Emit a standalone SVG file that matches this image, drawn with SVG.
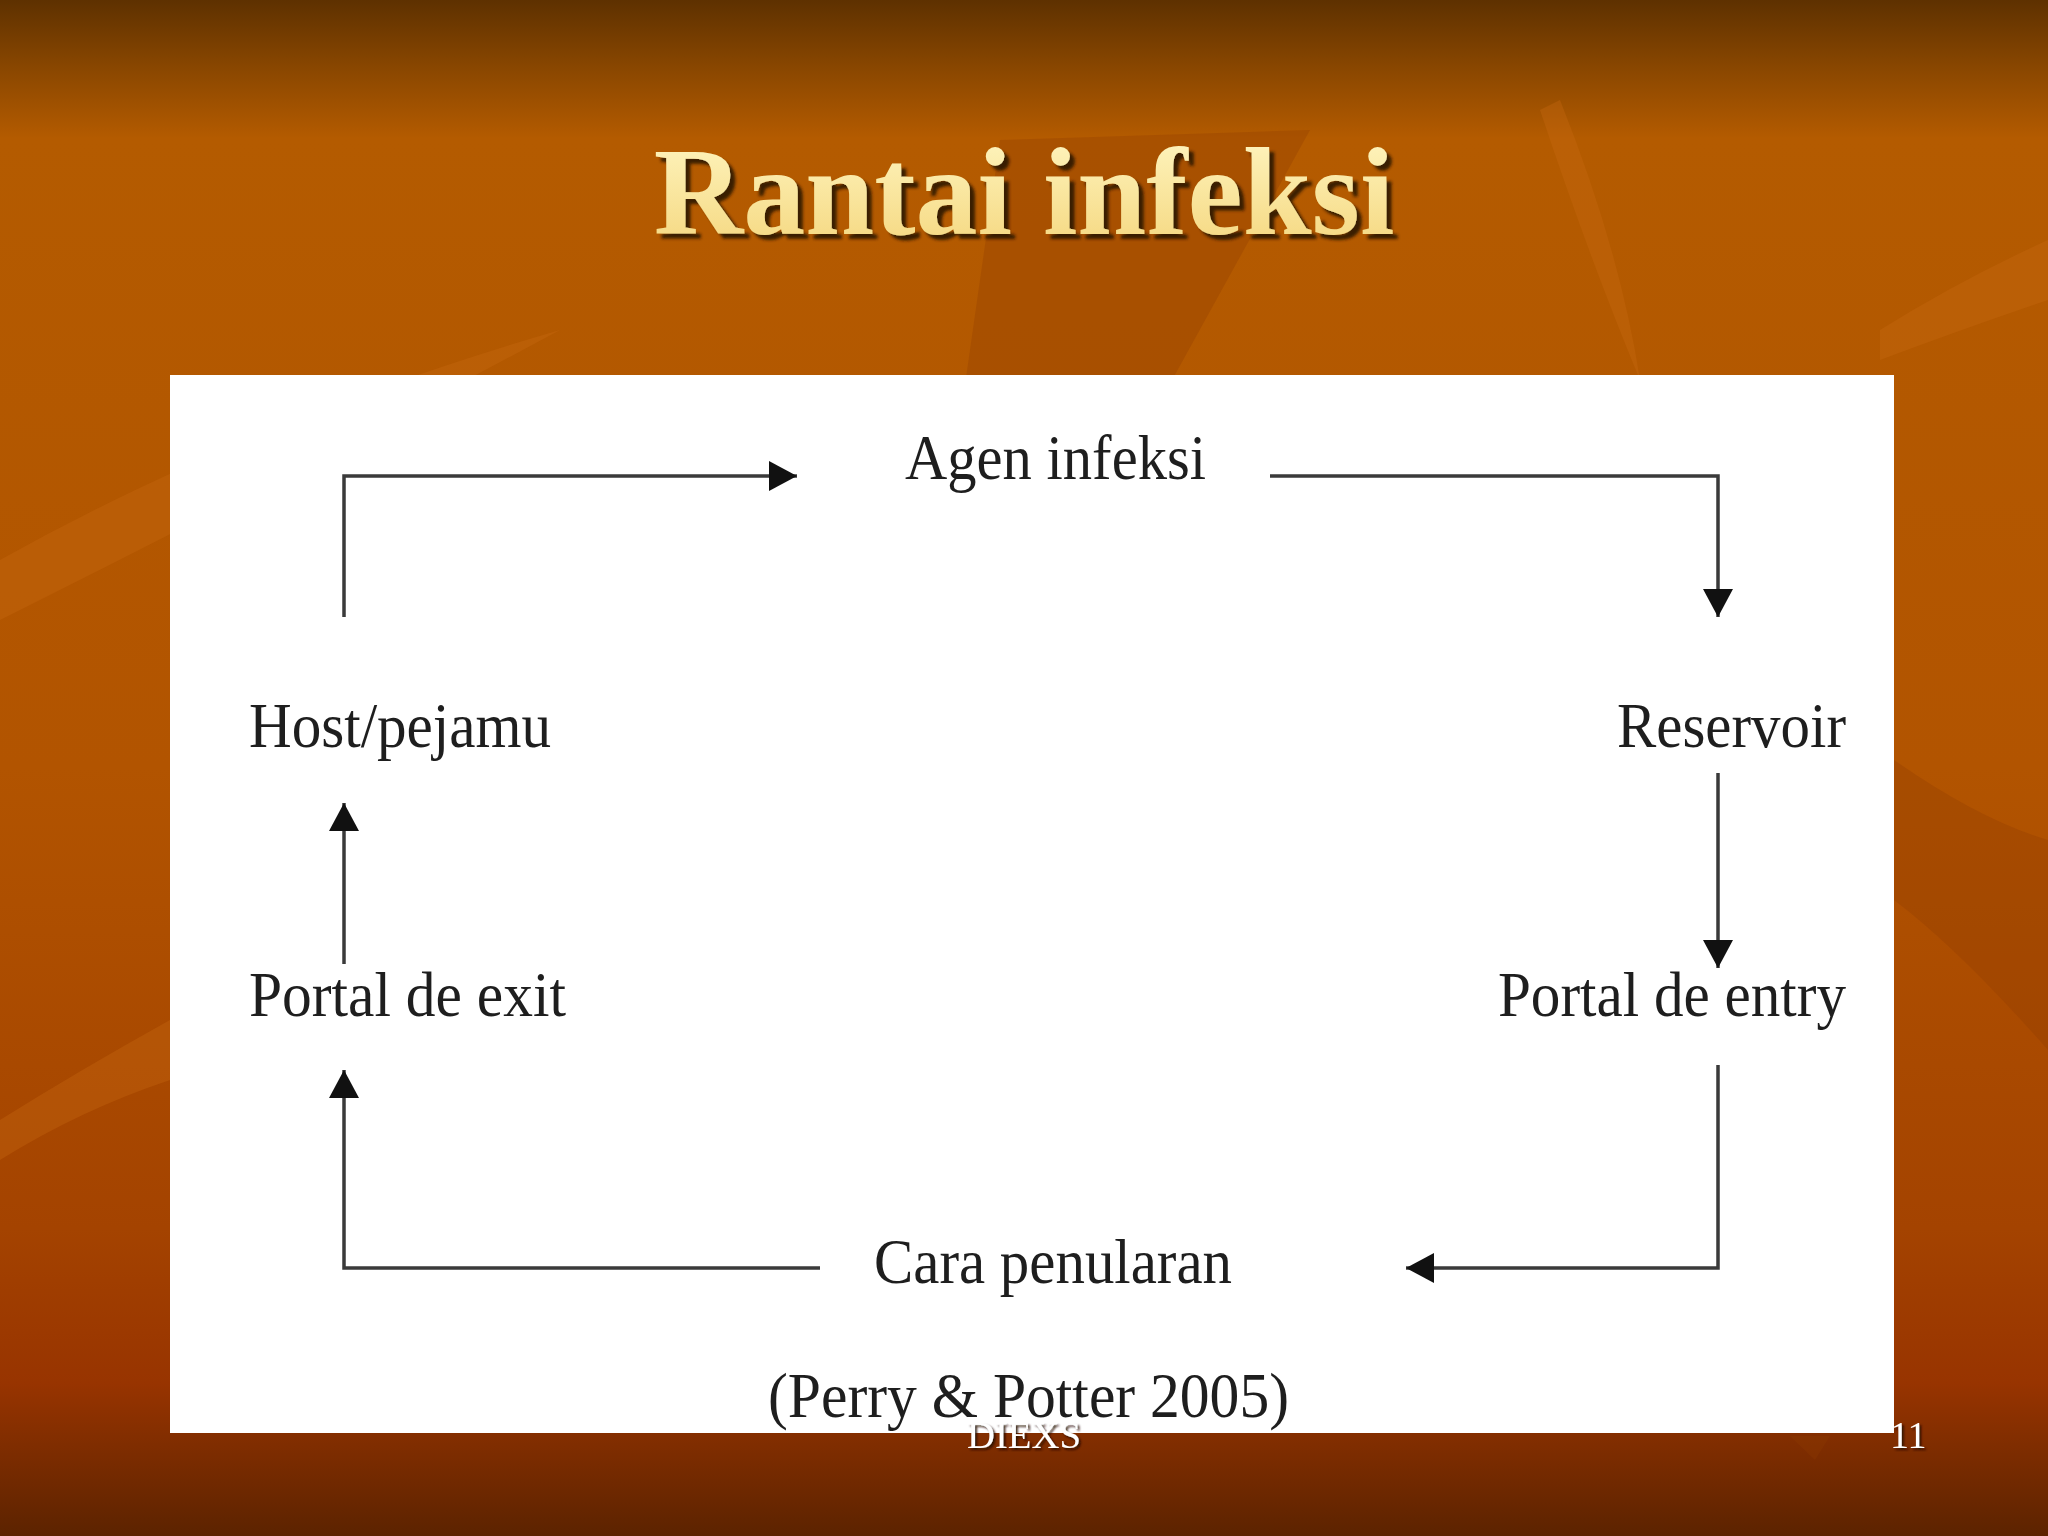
<svg xmlns="http://www.w3.org/2000/svg" width="2048" height="1536" viewBox="0 0 2048 1536">
<defs>
<linearGradient id="bg" x1="0" y1="0" x2="0" y2="1">
<stop offset="0" stop-color="#5E3100"/>
<stop offset="0.045" stop-color="#8A4700"/>
<stop offset="0.09" stop-color="#B45B00"/>
<stop offset="0.5" stop-color="#B25400"/>
<stop offset="0.8" stop-color="#A44300"/>
<stop offset="0.9" stop-color="#983400"/>
<stop offset="1" stop-color="#5C2300"/>
</linearGradient>
<linearGradient id="ttl" x1="0" y1="0" x2="0" y2="1">
<stop offset="0" stop-color="#FFF7C4"/>
<stop offset="1" stop-color="#F4D57A"/>
</linearGradient>
<filter id="sh" x="-10%" y="-20%" width="120%" height="150%">
<feDropShadow dx="5" dy="5" stdDeviation="1.5" flood-color="#2E1400" flood-opacity="0.9"/>
</filter>
<filter id="fsh" x="-10%" y="-30%" width="130%" height="160%">
<feDropShadow dx="2" dy="2" stdDeviation="0.8" flood-color="#2A1000" flood-opacity="0.9"/>
</filter>
<marker id="ah" viewBox="0 0 28 30" refX="28" refY="15" markerWidth="28" markerHeight="30" markerUnits="userSpaceOnUse" orient="auto">
<path d="M0,0 L28,15 L0,30 Z" fill="#111"/>
</marker>
<style>
.lbl{font-family:"Liberation Serif","Times New Roman",serif;font-size:64px;fill:#1E1E1E}
.ln{fill:none;stroke:#3A3A3A;stroke-width:3.5}
.leaf{fill:#C86A10;opacity:0.35}
.leafd{fill:#8E3A00;opacity:0.3}
.foot{font-family:"Liberation Serif","Times New Roman",serif;font-size:38px;fill:#FFFFFF}
</style>
</defs>
<rect x="0" y="0" width="2048" height="1536" fill="url(#bg)"/>
<g id="background-leaves">
<path class="leafd" d="M1000,140 L1310,130 L1150,420 L1080,620 L940,560 Z"/>
<path class="leaf" d="M0,560 Q250,420 560,330 Q300,470 0,620 Z"/>
<path class="leaf" d="M1560,100 Q1620,250 1640,380 Q1590,260 1540,110 Z"/>
<path class="leaf" d="M1880,330 Q1960,280 2048,240 L2048,300 Q1960,330 1880,360 Z"/>
<path class="leafd" d="M1894,760 Q1980,820 2048,840 L2048,1050 Q1960,950 1894,900 Z"/>
<path class="leaf" d="M0,1120 Q80,1070 170,1020 L170,1080 Q80,1110 0,1160 Z"/>
<path class="leafd" d="M1790,1436 L1830,1436 L1815,1460 Z"/>
</g>
<g id="title">
<text x="1024" y="234" text-anchor="middle" font-family="Liberation Serif,'Times New Roman',serif" font-weight="bold" font-size="124" fill="url(#ttl)" filter="url(#sh)">Rantai infeksi</text>
</g>
<rect id="panel" x="170" y="375" width="1724" height="1058" fill="#FFFFFF"/>
<g id="connectors">
<path class="ln" d="M344,617 L344,476 L797,476" marker-end="url(#ah)"/>
<path class="ln" d="M1270,476 L1718,476 L1718,617" marker-end="url(#ah)"/>
<path class="ln" d="M1718,773 L1718,968" marker-end="url(#ah)"/>
<path class="ln" d="M1718,1065 L1718,1268 L1406,1268" marker-end="url(#ah)"/>
<path class="ln" d="M820,1268 L344,1268 L344,1070" marker-end="url(#ah)"/>
<path class="ln" d="M344,964 L344,803" marker-end="url(#ah)"/>
</g>
<g id="node-agen"><text class="lbl" x="905" y="479" textLength="301" lengthAdjust="spacingAndGlyphs">Agen infeksi</text></g>
<g id="node-reservoir"><text class="lbl" x="1617" y="747" textLength="229" lengthAdjust="spacingAndGlyphs">Reservoir</text></g>
<g id="node-entry"><text class="lbl" x="1498" y="1016" textLength="348" lengthAdjust="spacingAndGlyphs">Portal de entry</text></g>
<g id="node-cara"><text class="lbl" x="874" y="1283" textLength="358" lengthAdjust="spacingAndGlyphs">Cara penularan</text></g>
<g id="node-exit"><text class="lbl" x="249" y="1016" textLength="317" lengthAdjust="spacingAndGlyphs">Portal de exit</text></g>
<g id="node-host"><text class="lbl" x="249" y="747" textLength="302" lengthAdjust="spacingAndGlyphs">Host/pejamu</text></g>
<g id="citation"><text class="lbl" x="768" y="1417" textLength="521" lengthAdjust="spacingAndGlyphs">(Perry &amp; Potter 2005)</text></g>
<g id="footer" filter="url(#fsh)">
<text class="foot" x="967" y="1448" textLength="114" lengthAdjust="spacingAndGlyphs">DIEXS</text>
<text class="foot" x="1890" y="1448">11</text>
</g>
</svg>
